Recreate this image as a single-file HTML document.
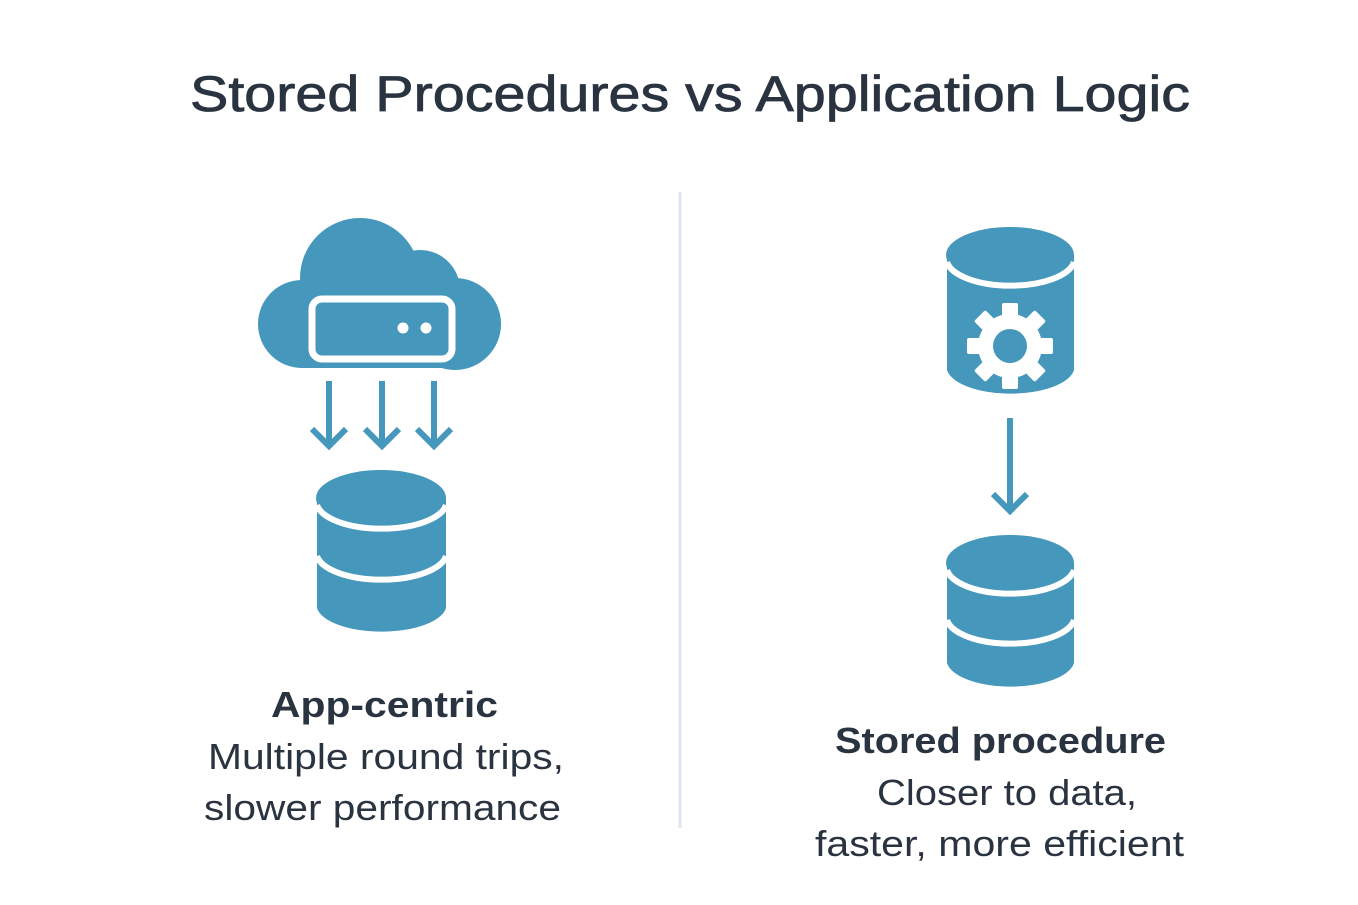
<!DOCTYPE html>
<html><head><style>
body{margin:0;background:#fff}
svg{display:block}
text{font-family:"Liberation Sans",sans-serif;fill:#2a3340}
</style></head><body>
<svg width="1358" height="905" viewBox="0 0 1358 905">
<text x="190" y="111" font-size="50" textLength="1000" lengthAdjust="spacingAndGlyphs" stroke="#2a3340" stroke-width="0.8">Stored Procedures vs Application Logic</text>
<line x1="680" y1="192" x2="680" y2="828" stroke="#dfe5ec" stroke-width="3"/>
<g fill="#4597bb">
<circle cx="360" cy="278" r="60"/>
<circle cx="302" cy="324" r="44"/>
<circle cx="455" cy="324" r="46"/>
<circle cx="420" cy="290" r="40"/>
<rect x="302" y="300" width="155" height="68"/>
</g>
<rect x="312" y="299" width="140" height="60" rx="10" fill="#4597bb" stroke="#fff" stroke-width="7"/>
<circle cx="403" cy="328" r="5.5" fill="#fff"/>
<circle cx="426" cy="328" r="5.5" fill="#fff"/>
<g stroke="#4597bb" stroke-width="6" fill="none">
<path d="M329,381V446M312,429L329,446L346,429"/>
<path d="M382,381V446M365,429L382,446L399,429"/>
<path d="M434,381V446M417,429L434,446L451,429"/>
<path d="M1010,418V511M993,494L1010,511L1027,494"/>
</g>
<path d="M317,498V608A65,27 0 0 0 446,608V498Z" fill="#4597bb"/>
<ellipse cx="381" cy="498" rx="65" ry="28" fill="#4597bb"/>
<path d="M317,505A65,27 0 0 0 446,505M317,556A65,27 0 0 0 446,556" stroke="#fff" stroke-width="6" fill="none"/>
<path d="M947,255V370A64,27 0 0 0 1074,370V255Z" fill="#4597bb"/>
<ellipse cx="1010" cy="255" rx="64" ry="28" fill="#4597bb"/>
<path d="M947,262A64,27 0 0 0 1074,262" stroke="#fff" stroke-width="6" fill="none"/>
<g transform="translate(1010,346)" fill="#fff">
<circle r="32"/>
<rect x="-8" y="-43" width="16" height="86" rx="2"/>
<rect x="-8" y="-43" width="16" height="86" rx="2" transform="rotate(45)"/>
<rect x="-8" y="-43" width="16" height="86" rx="2" transform="rotate(90)"/>
<rect x="-8" y="-43" width="16" height="86" rx="2" transform="rotate(135)"/>
<circle r="17" fill="#4597bb"/>
</g>
<path d="M947,563V663A64,27 0 0 0 1074,663V563Z" fill="#4597bb"/>
<ellipse cx="1010" cy="563" rx="64" ry="28" fill="#4597bb"/>
<path d="M947,570A64,27 0 0 0 1074,570M947,620A64,27 0 0 0 1074,620" stroke="#fff" stroke-width="6" fill="none"/>
<text x="271" y="717" font-size="36" font-weight="bold" textLength="227" lengthAdjust="spacingAndGlyphs">App-centric</text>
<text x="208" y="769" font-size="36" textLength="356" lengthAdjust="spacingAndGlyphs">Multiple round trips,</text>
<text x="204" y="820" font-size="36" textLength="357" lengthAdjust="spacingAndGlyphs">slower performance</text>
<text x="835" y="753" font-size="36" font-weight="bold" textLength="331" lengthAdjust="spacingAndGlyphs">Stored procedure</text>
<text x="877" y="805" font-size="36" textLength="260" lengthAdjust="spacingAndGlyphs">Closer to data,</text>
<text x="815" y="856" font-size="36" textLength="369" lengthAdjust="spacingAndGlyphs">faster, more efficient</text>
</svg>
</body></html>
